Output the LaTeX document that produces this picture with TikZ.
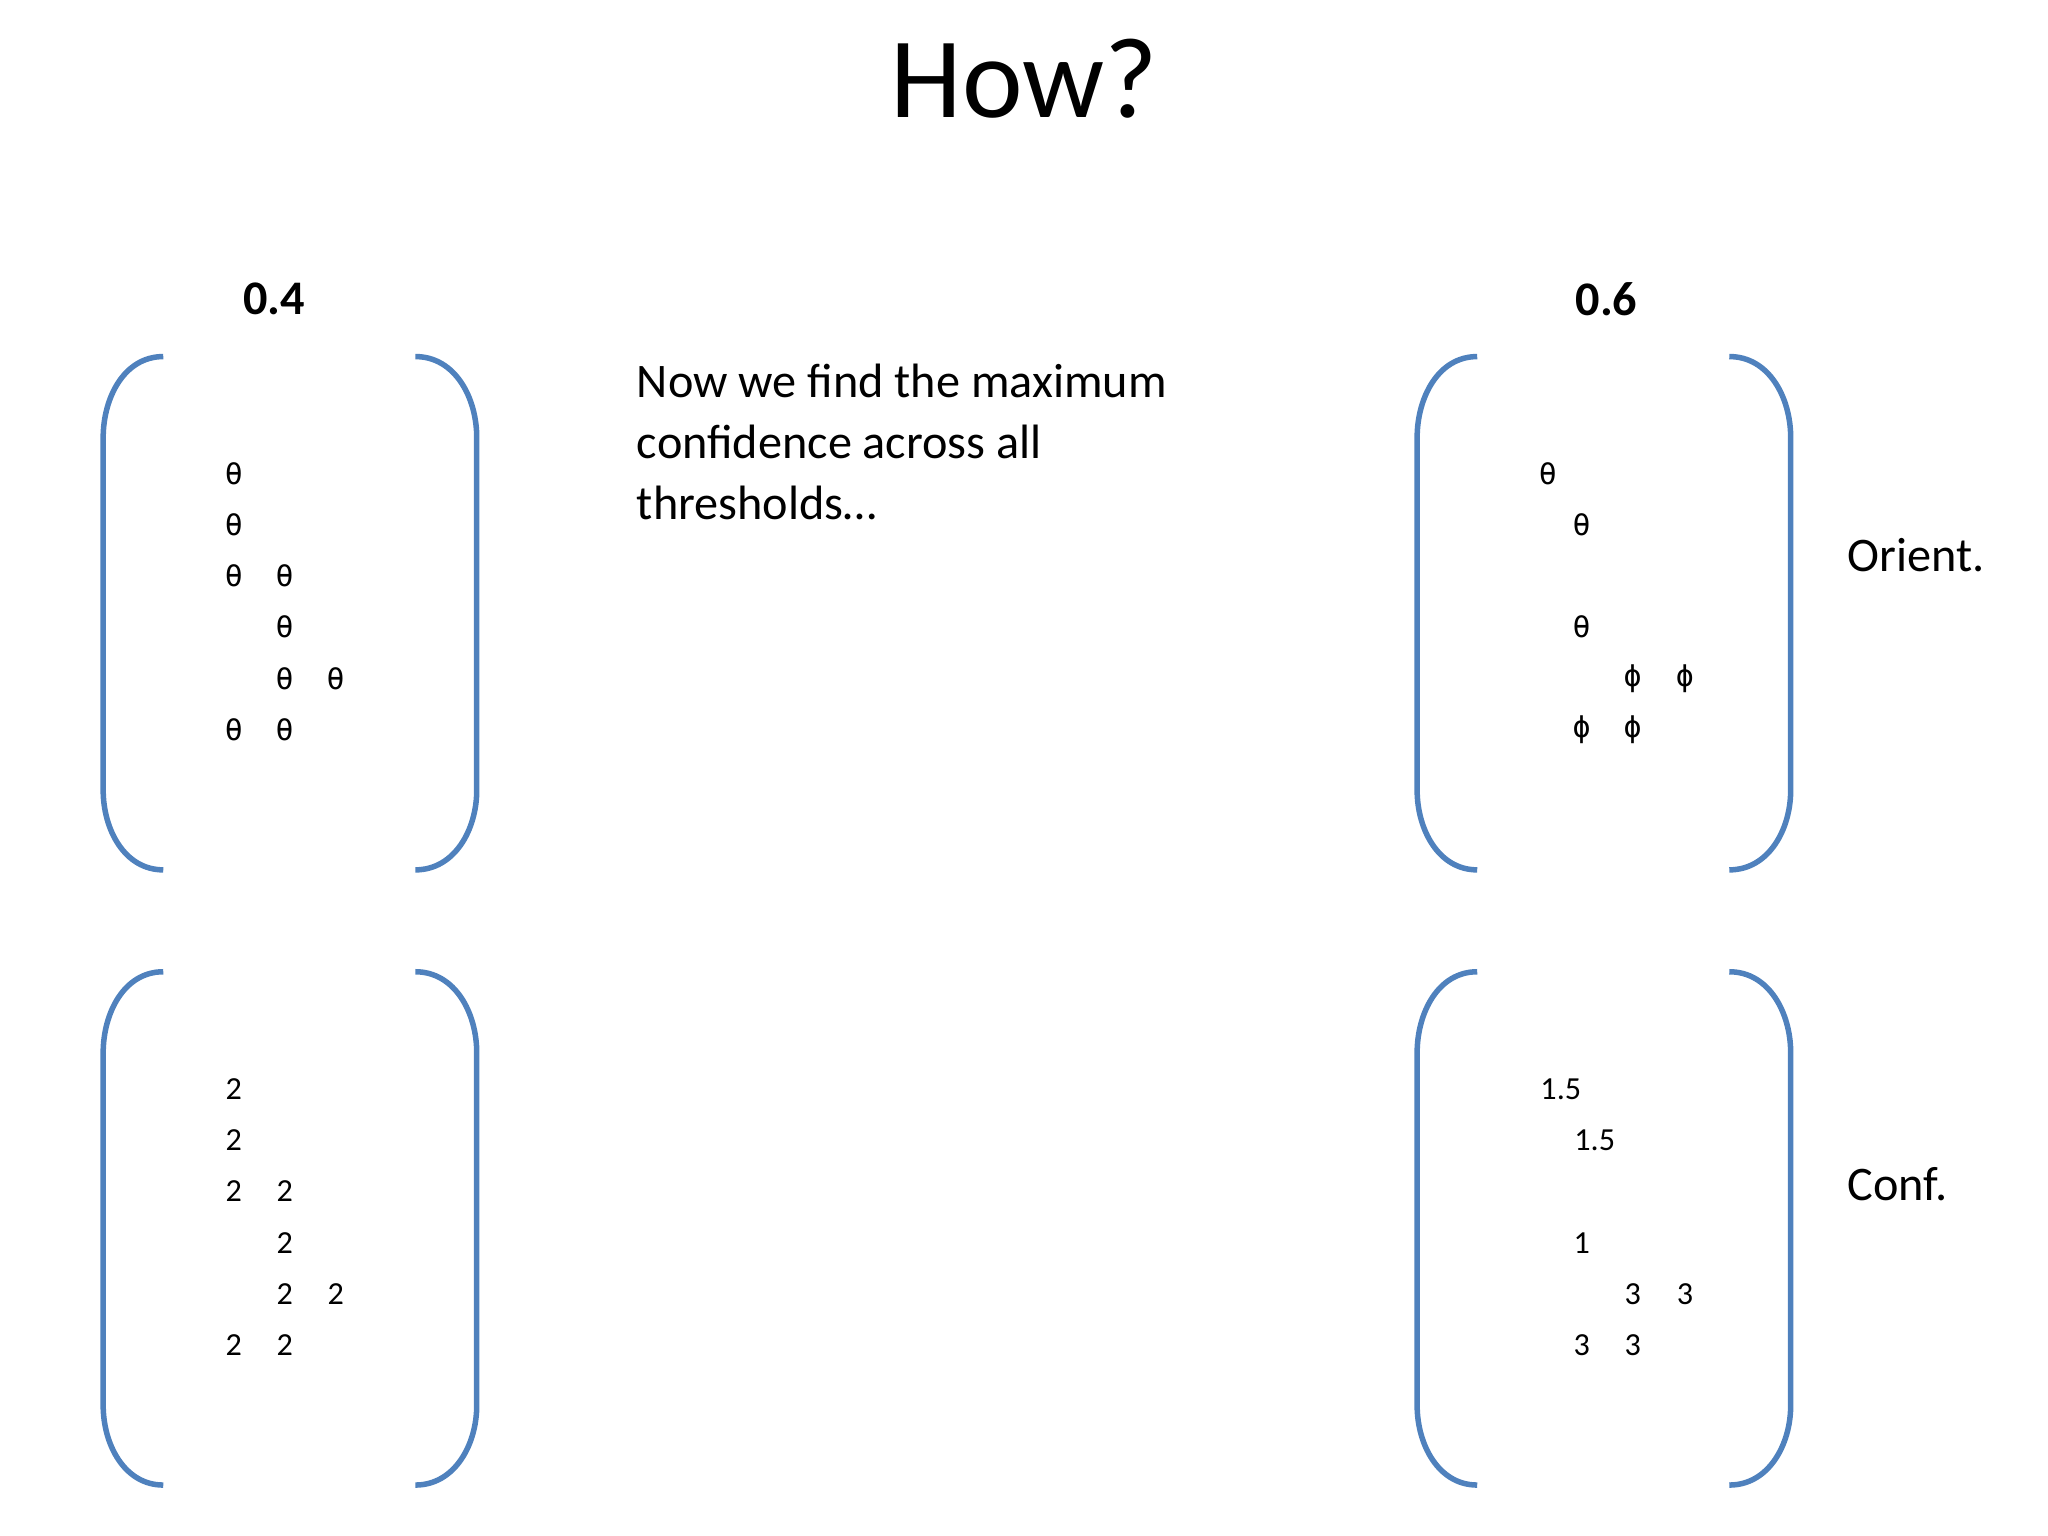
\documentclass[tikz,border=0pt]{standalone}
\usepackage{fontspec}
\setmainfont{Carlito}
\newfontfamily\mono{DejaVu Sans Mono}
\begin{document}
\begin{tikzpicture}[x=0.01cm,y=-0.01cm,
  br/.style={draw={rgb,255:red,79;green,129;blue,189},line width=1.2pt},
  en/.style={font=\mono\fontsize{6.5}{7}\selectfont,inner sep=0pt},
  ens/.style={font=\fontsize{7}{8}\selectfont,inner sep=0pt},
  lab/.style={font=\fontsize{10.5}{12}\selectfont,inner sep=0pt}]
\useasboundingbox (0,0) rectangle (1568,1176);
\node (title) at (784,60) {\fontsize{25}{30}\selectfont How?};
\node[lab,font=\bfseries\fontsize{10.5}{12}\selectfont] (a) at (210,229) {0.4};
\node[lab,font=\bfseries\fontsize{10.5}{12}\selectfont] (b) at (1230,229) {0.6};
\node[lab,anchor=north west,align=left,font=\fontsize{10.5}{13.3}\selectfont] (txt) at (487,278) {Now we find the maximum\\confidence across all\\thresholds…};
\node[lab,anchor=west] (or) at (1414,425) {Orient.};
\node[lab,anchor=west] (cf) at (1414,907) {Conf.};
\foreach \x/\y in {0/0,1006/0,0/471,1006/471}{
  \begin{scope}[shift={(\x,\y)}]
  \draw[br] (125,273) to[out=180,in=90] (79,335) -- (79,605) to[out=-90,in=180] (125,666);
  \draw[br] (318,273) to[out=0,in=90] (365,335) -- (365,605) to[out=-90,in=0] (318,666);
  \end{scope}}
\foreach \x/\y [count=\i] in {179/363,179/402,179/441,218/441,218/480,218/520,257/520,179/559,218/559}
  \node[en] (tl\i) at (\x,\y) {θ};
\foreach \x/\y [count=\i] in {179/834,179/873,179/912,218/912,218/952,218/991,257/991,179/1030,218/1030}
  \node[ens] (bl\i) at (\x,\y) {2};
\foreach \x/\y/\t [count=\i] in {1185/363/θ,1211/402/θ,1211/480/θ,1250/520/ϕ,1290/520/ϕ,1211/559/ϕ,1250/559/ϕ}
  \node[en] (tr\i) at (\x,\y) {\t};
\foreach \x/\y/\t [count=\i] in {1195/834/1.5,1221/873/1.5,1211/952/1,1250/991/3,1290/991/3,1211/1030/3,1250/1030/3}
  \node[ens] (br\i) at (\x,\y) {\t};
\end{tikzpicture}
\end{document}
